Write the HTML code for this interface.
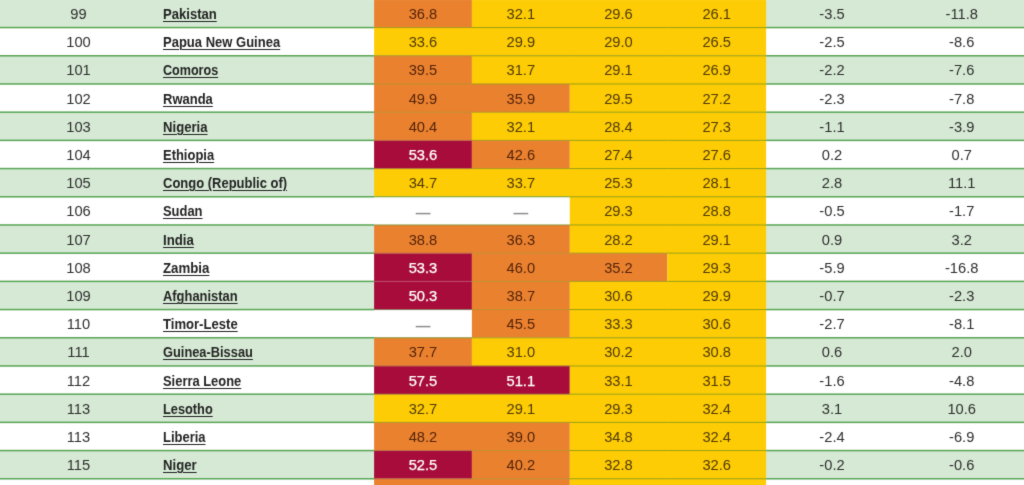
<!DOCTYPE html>
<html lang="en"><head><meta charset="utf-8"><title>Table</title>
<style>
html,body{margin:0;padding:0;background:#fff;}
html{overflow:hidden;}
body{width:1024px;height:485px;overflow:hidden;}
#clip{position:relative;width:1024px;height:485px;overflow:hidden;background:#fff;}
#soft{position:absolute;left:-16px;top:-16px;width:1056px;height:517px;background:#fff;filter:url(#soften);}
#wrap{position:absolute;left:16px;top:16px;width:1024px;height:485px;font-family:"Liberation Sans",Arial,sans-serif;}
#bg{position:absolute;left:0;top:0;overflow:visible;}
.t{position:absolute;white-space:nowrap;line-height:1;font-size:14.7px;color:#2f2f2f;}
.c{transform:translateX(-50%);}
.n{font-weight:bold;color:#242424;transform-origin:0 0;transform:scaleX(0.884);}
.n a{color:inherit;text-decoration:underline;text-decoration-thickness:1px;text-underline-offset:2px;}
.tO{color:#54240a}.tY{color:#503a06}.tR{color:#ffffff;-webkit-text-stroke:0.25px #fff}.tD{color:#8c8c8c;font-weight:bold;margin-top:2px}
</style></head><body>
<svg width="0" height="0" style="position:absolute"><defs><filter id="soften" x="0" y="0" width="100%" height="100%" color-interpolation-filters="sRGB"><feConvolveMatrix order="3" kernelMatrix="0.0121 0.0858 0.0121 0.0858 0.6084 0.0858 0.0121 0.0858 0.0121" edgeMode="duplicate" preserveAlpha="true"/></filter></defs></svg>
<div id="clip"><div id="soft"><div id="wrap">

<svg id="bg" width="1024" height="485" viewBox="0 0 1024 485">
<rect x="-16" y="-0.63" width="1056" height="28.20" fill="#d5e9d4"/>
<rect x="374.10" y="-0.63" width="97.80" height="28.20" fill="#ea812f"/>
<rect x="471.90" y="-0.63" width="294.20" height="28.20" fill="#fdcc04"/>
<rect x="374.10" y="27.57" width="392.00" height="28.20" fill="#fdcc04"/>
<rect x="-16" y="55.77" width="1056" height="28.20" fill="#d5e9d4"/>
<rect x="374.10" y="55.77" width="97.80" height="28.20" fill="#ea812f"/>
<rect x="471.90" y="55.77" width="294.20" height="28.20" fill="#fdcc04"/>
<rect x="374.10" y="83.97" width="195.70" height="28.20" fill="#ea812f"/>
<rect x="569.80" y="83.97" width="196.30" height="28.20" fill="#fdcc04"/>
<rect x="-16" y="112.17" width="1056" height="28.20" fill="#d5e9d4"/>
<rect x="374.10" y="112.17" width="97.80" height="28.20" fill="#ea812f"/>
<rect x="471.90" y="112.17" width="294.20" height="28.20" fill="#fdcc04"/>
<rect x="374.10" y="140.37" width="97.80" height="28.20" fill="#a70c3a"/>
<rect x="471.90" y="140.37" width="97.90" height="28.20" fill="#ea812f"/>
<rect x="569.80" y="140.37" width="196.30" height="28.20" fill="#fdcc04"/>
<rect x="-16" y="168.57" width="1056" height="28.20" fill="#d5e9d4"/>
<rect x="374.10" y="168.57" width="392.00" height="28.20" fill="#fdcc04"/>
<rect x="569.80" y="196.77" width="196.30" height="28.20" fill="#fdcc04"/>
<rect x="-16" y="224.97" width="1056" height="28.20" fill="#d5e9d4"/>
<rect x="374.10" y="224.97" width="195.70" height="28.20" fill="#ea812f"/>
<rect x="569.80" y="224.97" width="196.30" height="28.20" fill="#fdcc04"/>
<rect x="374.10" y="253.17" width="97.80" height="28.20" fill="#a70c3a"/>
<rect x="471.90" y="253.17" width="195.40" height="28.20" fill="#ea812f"/>
<rect x="667.30" y="253.17" width="98.80" height="28.20" fill="#fdcc04"/>
<rect x="-16" y="281.37" width="1056" height="28.20" fill="#d5e9d4"/>
<rect x="374.10" y="281.37" width="97.80" height="28.20" fill="#a70c3a"/>
<rect x="471.90" y="281.37" width="97.90" height="28.20" fill="#ea812f"/>
<rect x="569.80" y="281.37" width="196.30" height="28.20" fill="#fdcc04"/>
<rect x="471.90" y="309.57" width="97.90" height="28.20" fill="#ea812f"/>
<rect x="569.80" y="309.57" width="196.30" height="28.20" fill="#fdcc04"/>
<rect x="-16" y="337.77" width="1056" height="28.20" fill="#d5e9d4"/>
<rect x="374.10" y="337.77" width="97.80" height="28.20" fill="#ea812f"/>
<rect x="471.90" y="337.77" width="294.20" height="28.20" fill="#fdcc04"/>
<rect x="374.10" y="365.97" width="195.70" height="28.20" fill="#a70c3a"/>
<rect x="569.80" y="365.97" width="196.30" height="28.20" fill="#fdcc04"/>
<rect x="-16" y="394.17" width="1056" height="28.20" fill="#d5e9d4"/>
<rect x="374.10" y="394.17" width="392.00" height="28.20" fill="#fdcc04"/>
<rect x="374.10" y="422.37" width="195.70" height="28.20" fill="#ea812f"/>
<rect x="569.80" y="422.37" width="196.30" height="28.20" fill="#fdcc04"/>
<rect x="-16" y="450.57" width="1056" height="28.20" fill="#d5e9d4"/>
<rect x="374.10" y="450.57" width="97.80" height="28.20" fill="#a70c3a"/>
<rect x="471.90" y="450.57" width="97.90" height="28.20" fill="#ea812f"/>
<rect x="569.80" y="450.57" width="196.30" height="28.20" fill="#fdcc04"/>
<rect x="374.10" y="478.77" width="195.70" height="28.20" fill="#ea812f"/>
<rect x="569.80" y="478.77" width="196.30" height="28.20" fill="#fdcc04"/>
<rect x="-16.00" y="26.82" width="390.10" height="1.50" fill="#58a655"/>
<rect x="766.10" y="26.82" width="273.90" height="1.50" fill="#58a655"/>
<rect x="374.10" y="27.07" width="97.80" height="1.00" fill="#ac971e"/>
<rect x="471.90" y="27.07" width="97.90" height="1.00" fill="#98a010"/>
<rect x="569.80" y="27.07" width="97.50" height="1.00" fill="#98a010"/>
<rect x="667.30" y="27.07" width="98.80" height="1.00" fill="#98a010"/>
<rect x="-16.00" y="55.02" width="390.10" height="1.50" fill="#58a655"/>
<rect x="766.10" y="55.02" width="273.90" height="1.50" fill="#58a655"/>
<rect x="374.10" y="55.27" width="97.80" height="1.00" fill="#ac971e"/>
<rect x="471.90" y="55.27" width="97.90" height="1.00" fill="#98a010"/>
<rect x="569.80" y="55.27" width="97.50" height="1.00" fill="#98a010"/>
<rect x="667.30" y="55.27" width="98.80" height="1.00" fill="#98a010"/>
<rect x="-16.00" y="83.22" width="390.10" height="1.50" fill="#58a655"/>
<rect x="766.10" y="83.22" width="273.90" height="1.50" fill="#58a655"/>
<rect x="374.10" y="83.47" width="97.80" height="1.00" fill="#c08e2c"/>
<rect x="471.90" y="83.47" width="97.90" height="1.00" fill="#ac971e"/>
<rect x="569.80" y="83.47" width="97.50" height="1.00" fill="#98a010"/>
<rect x="667.30" y="83.47" width="98.80" height="1.00" fill="#98a010"/>
<rect x="-16.00" y="111.42" width="390.10" height="1.50" fill="#58a655"/>
<rect x="766.10" y="111.42" width="273.90" height="1.50" fill="#58a655"/>
<rect x="374.10" y="111.67" width="97.80" height="1.00" fill="#c08e2c"/>
<rect x="471.90" y="111.67" width="97.90" height="1.00" fill="#ac971e"/>
<rect x="569.80" y="111.67" width="97.50" height="1.00" fill="#98a010"/>
<rect x="667.30" y="111.67" width="98.80" height="1.00" fill="#98a010"/>
<rect x="-16.00" y="139.62" width="390.10" height="1.50" fill="#58a655"/>
<rect x="766.10" y="139.62" width="273.90" height="1.50" fill="#58a655"/>
<rect x="374.10" y="139.87" width="97.80" height="1.00" fill="#be6b4a"/>
<rect x="471.90" y="139.87" width="97.90" height="1.00" fill="#ac971e"/>
<rect x="569.80" y="139.87" width="97.50" height="1.00" fill="#98a010"/>
<rect x="667.30" y="139.87" width="98.80" height="1.00" fill="#98a010"/>
<rect x="-16.00" y="167.82" width="390.10" height="1.50" fill="#58a655"/>
<rect x="766.10" y="167.82" width="273.90" height="1.50" fill="#58a655"/>
<rect x="374.10" y="168.07" width="97.80" height="1.00" fill="#aa743c"/>
<rect x="471.90" y="168.07" width="97.90" height="1.00" fill="#ac971e"/>
<rect x="569.80" y="168.07" width="97.50" height="1.00" fill="#98a010"/>
<rect x="667.30" y="168.07" width="98.80" height="1.00" fill="#98a010"/>
<rect x="-16.00" y="196.02" width="390.10" height="1.50" fill="#58a655"/>
<rect x="766.10" y="196.02" width="273.90" height="1.50" fill="#58a655"/>
<rect x="374.10" y="196.27" width="97.80" height="1.00" fill="#78a332"/>
<rect x="471.90" y="196.27" width="97.90" height="1.00" fill="#78a332"/>
<rect x="569.80" y="196.27" width="97.50" height="1.00" fill="#98a010"/>
<rect x="667.30" y="196.27" width="98.80" height="1.00" fill="#98a010"/>
<rect x="-16.00" y="224.22" width="390.10" height="1.50" fill="#58a655"/>
<rect x="766.10" y="224.22" width="273.90" height="1.50" fill="#58a655"/>
<rect x="374.10" y="224.47" width="97.80" height="1.00" fill="#8c9a40"/>
<rect x="471.90" y="224.47" width="97.90" height="1.00" fill="#8c9a40"/>
<rect x="569.80" y="224.47" width="97.50" height="1.00" fill="#98a010"/>
<rect x="667.30" y="224.47" width="98.80" height="1.00" fill="#98a010"/>
<rect x="-16.00" y="252.42" width="390.10" height="1.50" fill="#58a655"/>
<rect x="766.10" y="252.42" width="273.90" height="1.50" fill="#58a655"/>
<rect x="374.10" y="252.67" width="97.80" height="1.00" fill="#be6b4a"/>
<rect x="471.90" y="252.67" width="97.90" height="1.00" fill="#c08e2c"/>
<rect x="569.80" y="252.67" width="97.50" height="1.00" fill="#ac971e"/>
<rect x="667.30" y="252.67" width="98.80" height="1.00" fill="#98a010"/>
<rect x="-16.00" y="280.62" width="390.10" height="1.50" fill="#58a655"/>
<rect x="766.10" y="280.62" width="273.90" height="1.50" fill="#58a655"/>
<rect x="374.10" y="280.87" width="97.80" height="1.00" fill="#bc4868"/>
<rect x="471.90" y="280.87" width="97.90" height="1.00" fill="#c08e2c"/>
<rect x="569.80" y="280.87" width="97.50" height="1.00" fill="#ac971e"/>
<rect x="667.30" y="280.87" width="98.80" height="1.00" fill="#98a010"/>
<rect x="-16.00" y="308.82" width="390.10" height="1.50" fill="#58a655"/>
<rect x="766.10" y="308.82" width="273.90" height="1.50" fill="#58a655"/>
<rect x="374.10" y="309.07" width="97.80" height="1.00" fill="#8a775e"/>
<rect x="471.90" y="309.07" width="97.90" height="1.00" fill="#c08e2c"/>
<rect x="569.80" y="309.07" width="97.50" height="1.00" fill="#98a010"/>
<rect x="667.30" y="309.07" width="98.80" height="1.00" fill="#98a010"/>
<rect x="-16.00" y="337.02" width="390.10" height="1.50" fill="#58a655"/>
<rect x="766.10" y="337.02" width="273.90" height="1.50" fill="#58a655"/>
<rect x="374.10" y="337.27" width="97.80" height="1.00" fill="#8c9a40"/>
<rect x="471.90" y="337.27" width="97.90" height="1.00" fill="#ac971e"/>
<rect x="569.80" y="337.27" width="97.50" height="1.00" fill="#98a010"/>
<rect x="667.30" y="337.27" width="98.80" height="1.00" fill="#98a010"/>
<rect x="-16.00" y="365.22" width="390.10" height="1.50" fill="#58a655"/>
<rect x="766.10" y="365.22" width="273.90" height="1.50" fill="#58a655"/>
<rect x="374.10" y="365.47" width="97.80" height="1.00" fill="#be6b4a"/>
<rect x="471.90" y="365.47" width="97.90" height="1.00" fill="#aa743c"/>
<rect x="569.80" y="365.47" width="97.50" height="1.00" fill="#98a010"/>
<rect x="667.30" y="365.47" width="98.80" height="1.00" fill="#98a010"/>
<rect x="-16.00" y="393.42" width="390.10" height="1.50" fill="#58a655"/>
<rect x="766.10" y="393.42" width="273.90" height="1.50" fill="#58a655"/>
<rect x="374.10" y="393.67" width="97.80" height="1.00" fill="#aa743c"/>
<rect x="471.90" y="393.67" width="97.90" height="1.00" fill="#aa743c"/>
<rect x="569.80" y="393.67" width="97.50" height="1.00" fill="#98a010"/>
<rect x="667.30" y="393.67" width="98.80" height="1.00" fill="#98a010"/>
<rect x="-16.00" y="421.62" width="390.10" height="1.50" fill="#58a655"/>
<rect x="766.10" y="421.62" width="273.90" height="1.50" fill="#58a655"/>
<rect x="374.10" y="421.87" width="97.80" height="1.00" fill="#ac971e"/>
<rect x="471.90" y="421.87" width="97.90" height="1.00" fill="#ac971e"/>
<rect x="569.80" y="421.87" width="97.50" height="1.00" fill="#98a010"/>
<rect x="667.30" y="421.87" width="98.80" height="1.00" fill="#98a010"/>
<rect x="-16.00" y="449.82" width="390.10" height="1.50" fill="#58a655"/>
<rect x="766.10" y="449.82" width="273.90" height="1.50" fill="#58a655"/>
<rect x="374.10" y="450.07" width="97.80" height="1.00" fill="#be6b4a"/>
<rect x="471.90" y="450.07" width="97.90" height="1.00" fill="#c08e2c"/>
<rect x="569.80" y="450.07" width="97.50" height="1.00" fill="#98a010"/>
<rect x="667.30" y="450.07" width="98.80" height="1.00" fill="#98a010"/>
<rect x="-16.00" y="478.02" width="390.10" height="1.50" fill="#58a655"/>
<rect x="766.10" y="478.02" width="273.90" height="1.50" fill="#58a655"/>
<rect x="374.10" y="478.27" width="97.80" height="1.00" fill="#be6b4a"/>
<rect x="471.90" y="478.27" width="97.90" height="1.00" fill="#c08e2c"/>
<rect x="569.80" y="478.27" width="97.50" height="1.00" fill="#98a010"/>
<rect x="667.30" y="478.27" width="98.80" height="1.00" fill="#98a010"/>
</svg>

<div class="t c" style="left:78.5px;top:7.30px">99</div>
<div class="t n" style="left:162.9px;top:7.30px;transform:scaleX(0.890)"><a>Pakistan</a></div>
<div class="t c tO" style="left:423.0px;top:7.30px">36.8</div>
<div class="t c tY" style="left:520.8px;top:7.30px">32.1</div>
<div class="t c tY" style="left:618.5px;top:7.30px">29.6</div>
<div class="t c tY" style="left:716.7px;top:7.30px">26.1</div>
<div class="t c" style="left:832.0px;top:7.30px">-3.5</div>
<div class="t c" style="left:961.7px;top:7.30px">-11.8</div>
<div class="t c" style="left:78.5px;top:35.30px">100</div>
<div class="t n" style="left:162.9px;top:35.30px;transform:scaleX(0.886)"><a>Papua New Guinea</a></div>
<div class="t c tY" style="left:423.0px;top:35.30px">33.6</div>
<div class="t c tY" style="left:520.8px;top:35.30px">29.9</div>
<div class="t c tY" style="left:618.5px;top:35.30px">29.0</div>
<div class="t c tY" style="left:716.7px;top:35.30px">26.5</div>
<div class="t c" style="left:832.0px;top:35.30px">-2.5</div>
<div class="t c" style="left:961.7px;top:35.30px">-8.6</div>
<div class="t c" style="left:78.5px;top:63.30px">101</div>
<div class="t n" style="left:162.9px;top:63.30px;transform:scaleX(0.856)"><a>Comoros</a></div>
<div class="t c tO" style="left:423.0px;top:63.30px">39.5</div>
<div class="t c tY" style="left:520.8px;top:63.30px">31.7</div>
<div class="t c tY" style="left:618.5px;top:63.30px">29.1</div>
<div class="t c tY" style="left:716.7px;top:63.30px">26.9</div>
<div class="t c" style="left:832.0px;top:63.30px">-2.2</div>
<div class="t c" style="left:961.7px;top:63.30px">-7.6</div>
<div class="t c" style="left:78.5px;top:92.30px">102</div>
<div class="t n" style="left:162.9px;top:92.30px;transform:scaleX(0.884)"><a>Rwanda</a></div>
<div class="t c tO" style="left:423.0px;top:92.30px">49.9</div>
<div class="t c tO" style="left:520.8px;top:92.30px">35.9</div>
<div class="t c tY" style="left:618.5px;top:92.30px">29.5</div>
<div class="t c tY" style="left:716.7px;top:92.30px">27.2</div>
<div class="t c" style="left:832.0px;top:92.30px">-2.3</div>
<div class="t c" style="left:961.7px;top:92.30px">-7.8</div>
<div class="t c" style="left:78.5px;top:120.30px">103</div>
<div class="t n" style="left:162.9px;top:120.30px;transform:scaleX(0.894)"><a>Nigeria</a></div>
<div class="t c tO" style="left:423.0px;top:120.30px">40.4</div>
<div class="t c tY" style="left:520.8px;top:120.30px">32.1</div>
<div class="t c tY" style="left:618.5px;top:120.30px">28.4</div>
<div class="t c tY" style="left:716.7px;top:120.30px">27.3</div>
<div class="t c" style="left:832.0px;top:120.30px">-1.1</div>
<div class="t c" style="left:961.7px;top:120.30px">-3.9</div>
<div class="t c" style="left:78.5px;top:148.30px">104</div>
<div class="t n" style="left:162.9px;top:148.30px;transform:scaleX(0.882)"><a>Ethiopia</a></div>
<div class="t c tR" style="left:423.0px;top:148.30px">53.6</div>
<div class="t c tO" style="left:520.8px;top:148.30px">42.6</div>
<div class="t c tY" style="left:618.5px;top:148.30px">27.4</div>
<div class="t c tY" style="left:716.7px;top:148.30px">27.6</div>
<div class="t c" style="left:832.0px;top:148.30px">0.2</div>
<div class="t c" style="left:961.7px;top:148.30px">0.7</div>
<div class="t c" style="left:78.5px;top:176.30px">105</div>
<div class="t n" style="left:162.9px;top:176.30px;transform:scaleX(0.884)"><a>Congo (Republic of)</a></div>
<div class="t c tY" style="left:423.0px;top:176.30px">34.7</div>
<div class="t c tY" style="left:520.8px;top:176.30px">33.7</div>
<div class="t c tY" style="left:618.5px;top:176.30px">25.3</div>
<div class="t c tY" style="left:716.7px;top:176.30px">28.1</div>
<div class="t c" style="left:832.0px;top:176.30px">2.8</div>
<div class="t c" style="left:961.7px;top:176.30px">11.1</div>
<div class="t c" style="left:78.5px;top:204.30px">106</div>
<div class="t n" style="left:162.9px;top:204.30px;transform:scaleX(0.880)"><a>Sudan</a></div>
<div class="t c tD" style="left:423.0px;top:204.30px">—</div>
<div class="t c tD" style="left:520.8px;top:204.30px">—</div>
<div class="t c tY" style="left:618.5px;top:204.30px">29.3</div>
<div class="t c tY" style="left:716.7px;top:204.30px">28.8</div>
<div class="t c" style="left:832.0px;top:204.30px">-0.5</div>
<div class="t c" style="left:961.7px;top:204.30px">-1.7</div>
<div class="t c" style="left:78.5px;top:233.30px">107</div>
<div class="t n" style="left:162.9px;top:233.30px;transform:scaleX(0.898)"><a>India</a></div>
<div class="t c tO" style="left:423.0px;top:233.30px">38.8</div>
<div class="t c tO" style="left:520.8px;top:233.30px">36.3</div>
<div class="t c tY" style="left:618.5px;top:233.30px">28.2</div>
<div class="t c tY" style="left:716.7px;top:233.30px">29.1</div>
<div class="t c" style="left:832.0px;top:233.30px">0.9</div>
<div class="t c" style="left:961.7px;top:233.30px">3.2</div>
<div class="t c" style="left:78.5px;top:261.30px">108</div>
<div class="t n" style="left:162.9px;top:261.30px;transform:scaleX(0.902)"><a>Zambia</a></div>
<div class="t c tR" style="left:423.0px;top:261.30px">53.3</div>
<div class="t c tO" style="left:520.8px;top:261.30px">46.0</div>
<div class="t c tO" style="left:618.5px;top:261.30px">35.2</div>
<div class="t c tY" style="left:716.7px;top:261.30px">29.3</div>
<div class="t c" style="left:832.0px;top:261.30px">-5.9</div>
<div class="t c" style="left:961.7px;top:261.30px">-16.8</div>
<div class="t c" style="left:78.5px;top:289.30px">109</div>
<div class="t n" style="left:162.9px;top:289.30px;transform:scaleX(0.879)"><a>Afghanistan</a></div>
<div class="t c tR" style="left:423.0px;top:289.30px">50.3</div>
<div class="t c tO" style="left:520.8px;top:289.30px">38.7</div>
<div class="t c tY" style="left:618.5px;top:289.30px">30.6</div>
<div class="t c tY" style="left:716.7px;top:289.30px">29.9</div>
<div class="t c" style="left:832.0px;top:289.30px">-0.7</div>
<div class="t c" style="left:961.7px;top:289.30px">-2.3</div>
<div class="t c" style="left:78.5px;top:317.30px">110</div>
<div class="t n" style="left:162.9px;top:317.30px;transform:scaleX(0.891)"><a>Timor-Leste</a></div>
<div class="t c tD" style="left:423.0px;top:317.30px">—</div>
<div class="t c tO" style="left:520.8px;top:317.30px">45.5</div>
<div class="t c tY" style="left:618.5px;top:317.30px">33.3</div>
<div class="t c tY" style="left:716.7px;top:317.30px">30.6</div>
<div class="t c" style="left:832.0px;top:317.30px">-2.7</div>
<div class="t c" style="left:961.7px;top:317.30px">-8.1</div>
<div class="t c" style="left:78.5px;top:345.30px">111</div>
<div class="t n" style="left:162.9px;top:345.30px;transform:scaleX(0.874)"><a>Guinea-Bissau</a></div>
<div class="t c tO" style="left:423.0px;top:345.30px">37.7</div>
<div class="t c tY" style="left:520.8px;top:345.30px">31.0</div>
<div class="t c tY" style="left:618.5px;top:345.30px">30.2</div>
<div class="t c tY" style="left:716.7px;top:345.30px">30.8</div>
<div class="t c" style="left:832.0px;top:345.30px">0.6</div>
<div class="t c" style="left:961.7px;top:345.30px">2.0</div>
<div class="t c" style="left:78.5px;top:374.30px">112</div>
<div class="t n" style="left:162.9px;top:374.30px;transform:scaleX(0.879)"><a>Sierra Leone</a></div>
<div class="t c tR" style="left:423.0px;top:374.30px">57.5</div>
<div class="t c tR" style="left:520.8px;top:374.30px">51.1</div>
<div class="t c tY" style="left:618.5px;top:374.30px">33.1</div>
<div class="t c tY" style="left:716.7px;top:374.30px">31.5</div>
<div class="t c" style="left:832.0px;top:374.30px">-1.6</div>
<div class="t c" style="left:961.7px;top:374.30px">-4.8</div>
<div class="t c" style="left:78.5px;top:402.30px">113</div>
<div class="t n" style="left:162.9px;top:402.30px;transform:scaleX(0.870)"><a>Lesotho</a></div>
<div class="t c tY" style="left:423.0px;top:402.30px">32.7</div>
<div class="t c tY" style="left:520.8px;top:402.30px">29.1</div>
<div class="t c tY" style="left:618.5px;top:402.30px">29.3</div>
<div class="t c tY" style="left:716.7px;top:402.30px">32.4</div>
<div class="t c" style="left:832.0px;top:402.30px">3.1</div>
<div class="t c" style="left:961.7px;top:402.30px">10.6</div>
<div class="t c" style="left:78.5px;top:430.30px">113</div>
<div class="t n" style="left:162.9px;top:430.30px;transform:scaleX(0.882)"><a>Liberia</a></div>
<div class="t c tO" style="left:423.0px;top:430.30px">48.2</div>
<div class="t c tO" style="left:520.8px;top:430.30px">39.0</div>
<div class="t c tY" style="left:618.5px;top:430.30px">34.8</div>
<div class="t c tY" style="left:716.7px;top:430.30px">32.4</div>
<div class="t c" style="left:832.0px;top:430.30px">-2.4</div>
<div class="t c" style="left:961.7px;top:430.30px">-6.9</div>
<div class="t c" style="left:78.5px;top:458.30px">115</div>
<div class="t n" style="left:162.9px;top:458.30px;transform:scaleX(0.897)"><a>Niger</a></div>
<div class="t c tR" style="left:423.0px;top:458.30px">52.5</div>
<div class="t c tO" style="left:520.8px;top:458.30px">40.2</div>
<div class="t c tY" style="left:618.5px;top:458.30px">32.8</div>
<div class="t c tY" style="left:716.7px;top:458.30px">32.6</div>
<div class="t c" style="left:832.0px;top:458.30px">-0.2</div>
<div class="t c" style="left:961.7px;top:458.30px">-0.6</div>
</div></div></div>
</body></html>
